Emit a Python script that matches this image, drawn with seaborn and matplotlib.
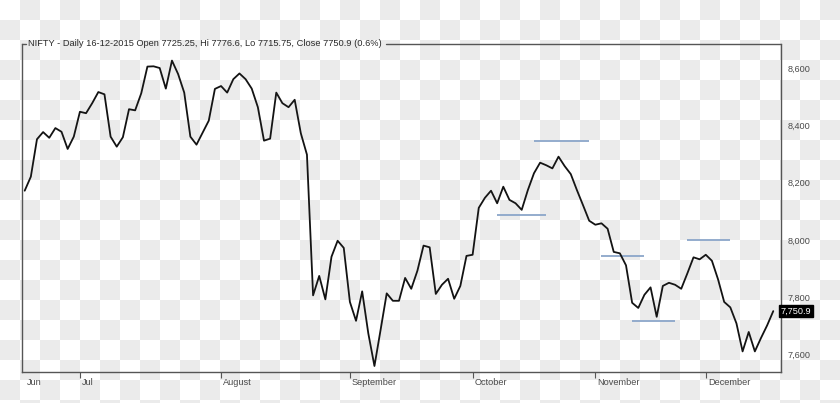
import numpy as np
import pandas as pd
import matplotlib
matplotlib.use("Agg")
import matplotlib.pyplot as plt
import matplotlib.transforms as mtransforms
from matplotlib.lines import Line2D
import seaborn as sns

# ---- data (daily close, NIFTY, mid-June .. 16-Dec-2015) ----
close = [8172, 8221, 8352, 8377, 8357, 8391, 8378, 8318, 8361, 8448,
         8443, 8478, 8517, 8509, 8361, 8326, 8359, 8457, 8453, 8513,
         8606, 8607, 8601, 8529, 8627, 8580, 8515, 8361, 8333, 8375,
         8417, 8528, 8538, 8515, 8562, 8582, 8562, 8529, 8464, 8347,
         8354, 8515, 8478, 8464, 8490, 8373, 8298, 7806, 7874, 7792,
         7941, 7997, 7972, 7783, 7717, 7820, 7673, 7559, 7685, 7813,
         7787, 7787, 7867, 7829, 7892, 7980, 7974, 7811, 7843, 7864,
         7794, 7839, 7944, 7948, 8112, 8147, 8172, 8128, 8186, 8140,
         8128, 8105, 8174, 8233, 8270, 8261, 8250, 8291, 8258, 8230,
         8174, 8121, 8067, 8053, 8058, 8039, 7958, 7953, 7911, 7780,
         7762, 7808, 7834, 7731, 7839, 7850, 7843, 7829, 7883, 7939,
         7932, 7948, 7927, 7862, 7783, 7764, 7708, 7610, 7678, 7610,
         7657, 7701, 7750.9]

month_labels = ["Jun", "Jul", "August", "September", "October", "November", "December"]
month_start_idx = [0, 9, 32, 53, 73, 93, 111]

level_values = [8088, 8345, 7944, 7716, 8000]
level_start = [77, 83, 94, 99, 108]
level_end = [85, 92, 101, 106, 115]

y_ticks = [7600, 7800, 8000, 8200, 8400, 8600]
y_tick_labels = ["7,600", "7,800", "8,000", "8,200", "8,400", "8,600"]

title_text = "NIFTY - Daily 16-12-2015 Open 7725.25, Hi 7776.6, Lo 7715.75, Close 7750.9 (0.6%)"
last_close_label = "7,750.9"

# ---- style ----
sns.set_style("white")
plt.rcParams['font.family'] = ['Liberation Sans', 'DejaVu Sans']

W, H, DPI = 840, 403, 100
fig = plt.figure(figsize=(W / DPI, H / DPI), dpi=DPI)

# checkerboard background (transparent-image look)
yy, xx = np.mgrid[0:H, 0:W]
board = np.where(((yy // 20) + (xx // 20)) % 2 == 1, 235, 255).astype(np.uint8)
fig.figimage(np.dstack([board] * 3), xo=0, yo=0, origin='upper', zorder=-10)

L, R, T, B = 22, 781, 44, 372
ax = fig.add_axes([L / W, (H - B) / H, (R - L) / W, (B - T) / H])
ax.set_zorder(1)
ax.patch.set_alpha(0)

df = pd.DataFrame({"day": np.arange(len(close)), "close": close})
sns.lineplot(data=df, x="day", y="close", ax=ax, color="#141414", linewidth=1.3)
ax.hlines(level_values, level_start, level_end, color="#8ba6c9", linewidth=1.3, zorder=1)

ax.set_xlim(-0.44, 123.26)
ax.set_ylim(7538, 8685)
ax.set_xlabel("")
ax.set_ylabel("")

# y axis on right
ax.yaxis.tick_right()
ax.set_yticks(y_ticks)
ax.set_yticklabels(y_tick_labels)
ax.tick_params(axis='y', length=0, pad=4.5, labelsize=6.6, labelcolor='#4a4a4a')

# x axis months
ax.set_xticks(month_start_idx)
ax.set_xticklabels(month_labels, ha='left')
ax.tick_params(axis='x', length=4, width=0.8, direction='out', color='#555555',
               pad=0.3, labelsize=6.6, labelcolor='#4a4a4a', bottom=True)
shift = mtransforms.ScaledTranslation(2 / DPI, 0, fig.dpi_scale_trans)
for lbl in ax.get_xticklabels():
    lbl.set_transform(lbl.get_transform() + shift)
ax.xaxis.get_major_ticks()[0].tick1line.set_visible(False)

for s in ["left", "right", "bottom"]:
    ax.spines[s].set_visible(True)
    ax.spines[s].set_color("#555555")
    ax.spines[s].set_linewidth(1.0)
ax.spines["top"].set_visible(False)

# title sitting on the top frame line
tx = (28 - L) / (R - L)
title = ax.text(tx, 1.0, title_text, transform=ax.transAxes, va='center', ha='left',
                fontsize=6.65, color='#2a2a2a')

# last close price tag
ax.text(1.0, close[-1], last_close_label,
        transform=mtransforms.blended_transform_factory(ax.transAxes, ax.transData),
        va='center', ha='left', fontsize=6.6, color='white',
        bbox=dict(boxstyle='square,pad=0.18', fc='black', ec='black'))

fig.canvas.draw()
bb = title.get_window_extent()
inv = ax.transAxes.inverted()
x_end = inv.transform((bb.x1 + 4, 0))[0]
x_stub = (26 - L) / (R - L)
for x0, x1 in [(0, x_stub), (x_end, 1.0)]:
    ax.add_line(Line2D([x0, x1], [1.0, 1.0], transform=ax.transAxes, color="#555555",
                       linewidth=1.0, clip_on=False))

fig.savefig("out.png", dpi=DPI)
